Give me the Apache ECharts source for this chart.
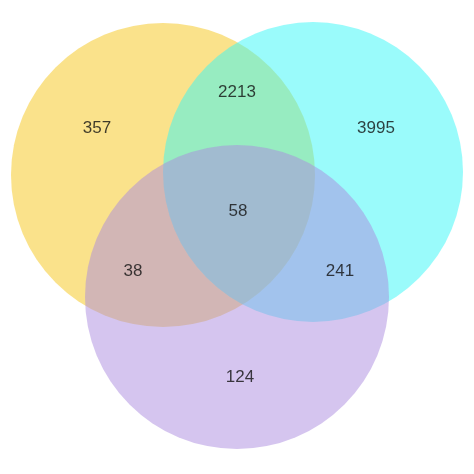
<!DOCTYPE html>
<html><head><meta charset="utf-8">
<script src="https://cdn.jsdelivr.net/npm/echarts@6/dist/echarts.min.js"></script>
<style>html,body{margin:0;padding:0;background:#fff}#c{width:474px;height:474px}</style>
</head><body><div id="c"></div>
<script>
const setNames = ['A','B','C'];
const circleCx = [163, 313, 237];
const circleCy = [175, 172, 297];
const circleR = [152, 150, 152];
const circleColors = ['#F5C517', '#35F7F7', '#AB8BDF'];
const regionLabels = ['357','2213','3995','58','38','241','124'];
const labelX = [97, 237, 376, 238, 133, 340, 240];
const labelY = [128, 92, 128, 211, 271, 271, 377];

const chart = echarts.init(document.getElementById('c'));
chart.setOption({
  animation:false,
  grid:{left:0,right:0,top:0,bottom:0},
  xAxis:{type:'value',min:0,max:474,show:false},
  yAxis:{type:'value',min:0,max:474,inverse:true,show:false},
  series:[
    {type:'custom',
     data:setNames.map((n,i)=>[circleCx[i],circleCy[i],circleR[i],i]),
     renderItem:(params,api)=>{
       const c=api.coord([api.value(0),api.value(1)]);
       const r=api.size([api.value(2),0])[0];
       return {type:'circle',shape:{cx:c[0],cy:c[1],r:r},
         style:{fill:circleColors[api.value(3)],opacity:0.5,stroke:'none'}};
     }},
    {type:'scatter',symbolSize:0,
     data:regionLabels.map((t,i)=>({value:[labelX[i],labelY[i]],name:t})),
     label:{show:true,position:'inside',formatter:p=>p.name,
       fontFamily:'Liberation Sans, Arial, sans-serif',fontSize:17,color:'#111'}}
  ]
});
</script></body></html>
